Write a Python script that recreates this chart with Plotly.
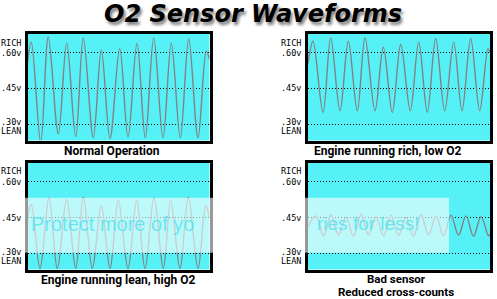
import plotly.graph_objects as go

# ---------------- data (time in arbitrary units across each trace, voltage in V) -------------
normal_t = [0, 3.8, 13.2, 20.8, 30.8, 39.2, 48.2, 55.8, 65.8, 73.8, 82.5, 92.2, 100.5,
            109.5, 117.8, 126.2, 135.5, 143.8, 152.8, 161.2, 170.5, 178.8, 182]
normal_v = [0.556, 0.641, 0.225, 0.662, 0.260, 0.637, 0.248, 0.659, 0.244, 0.609, 0.240,
            0.615, 0.245, 0.637, 0.243, 0.659, 0.243, 0.637, 0.243, 0.655, 0.243, 0.603, 0.570]

rich_t = [0, 5, 15, 22.7, 32, 40.3, 49.3, 57, 67, 75.3, 84.3, 92.7, 102.3, 110.7, 119.3,
          127.7, 136.7, 145.7, 154, 162.7, 171.7, 180, 182]
rich_v = [0.552, 0.645, 0.349, 0.659, 0.356, 0.645, 0.356, 0.659, 0.356, 0.620, 0.349,
          0.631, 0.356, 0.641, 0.349, 0.655, 0.356, 0.641, 0.356, 0.655, 0.356, 0.613, 0.600]

lean_t = [0, 3.8, 12.5, 21.5, 29.8, 39.2, 48.2, 55.8, 64.8, 73.8, 82.5, 90.8, 100.5,
          109.2, 117.5, 126.5, 135.8, 143.2, 152.5, 160.8, 170.5, 178.2, 182]
lean_v = [0.450, 0.503, 0.236, 0.531, 0.236, 0.524, 0.236, 0.534, 0.236, 0.497, 0.236,
          0.520, 0.236, 0.520, 0.236, 0.531, 0.236, 0.520, 0.236, 0.534, 0.236, 0.497, 0.450]

bad_t = [0, 8, 15.5, 23, 30.5, 38, 45.5, 53, 60.5, 68, 75.5, 83, 90.5, 98, 105.5, 113,
         120.5, 128, 135.5, 143, 150.5, 158, 165.5, 173, 180.5, 182]
bad_v = [0.410, 0.455, 0.372, 0.460, 0.375, 0.450, 0.370, 0.462, 0.376, 0.452, 0.372,
         0.458, 0.374, 0.450, 0.370, 0.460, 0.376, 0.455, 0.372, 0.458, 0.375, 0.455,
         0.370, 0.452, 0.372, 0.380]

grid_volts = [0.30, 0.45, 0.60]
scale_labels = ["RICH", ".60v", ".45v", ".30v", "LEAN"]
captions = ["Normal Operation", "Engine running rich, low O2",
            "Engine running lean, high O2", "Bad sensor", "Reduced cross-counts"]
title_text = "O2 Sensor Waveforms"
watermark_parts = ["Protect more of yo", "ries for less!"]

# ---------------- layout helpers ----------------
W, H = 497, 299


def px_x(x):
    return x / W


def px_y(y):
    return 1 - y / H


CYAN = "#55F1F6"
WAVE = "#858083"

series = [(normal_t, normal_v), (rich_t, rich_v), (lean_t, lean_v), (bad_t, bad_v)]
# inner plot boxes in pixels: (left, right, top, bottom)
boxes = [(27.5, 209.5, 33.5, 140.5), (308, 490, 33.5, 140.5),
         (27.5, 209.5, 162.5, 269.5), (308, 490, 162.5, 269.5)]

fig = go.Figure()
for i, ((t, v), (l, r, tp, bt)) in enumerate(zip(series, boxes)):
    n = "" if i == 0 else str(i + 1)
    fig.add_trace(go.Scatter(x=t, y=v, mode="lines",
                             line=dict(color=WAVE, width=1.4, shape="spline", smoothing=1.0),
                             xaxis="x" + n, yaxis="y" + n, showlegend=False, hoverinfo="skip"))
    fig.layout["xaxis" + n] = dict(domain=[px_x(l), px_x(r)], range=[0, 182],
                                   showgrid=False, zeroline=False, showticklabels=False,
                                   ticks="", showline=True, mirror=True, linewidth=3,
                                   linecolor="black", anchor="y" + n, fixedrange=True)
    fig.layout["yaxis" + n] = dict(domain=[px_y(bt), px_y(tp)], range=[0.232, 0.677],
                                   tickvals=grid_volts, showticklabels=False, ticks="",
                                   showgrid=True, gridcolor="black", gridwidth=1,
                                   griddash="1px,2px", zeroline=False, showline=True,
                                   mirror=True, linewidth=3, linecolor="black",
                                   anchor="x" + n, fixedrange=True)
    fig.add_shape(type="rect", xref="x" + n + " domain", yref="y" + n + " domain",
                  x0=0, x1=1, y0=0, y1=1, fillcolor=CYAN, line_width=0, layer="below")

annotations = []
# scale labels
label_rows_top = [42.7, 53.3, 88.3, 121.7, 131.0]
label_rows_bot = [171.3, 181.5, 217.5, 251.7, 261.3]
for xr, rows in [(23, label_rows_top), (303, label_rows_top),
                 (23, label_rows_bot), (303, label_rows_bot)]:
    for txt, yy in zip(scale_labels, rows):
        annotations.append(dict(text=txt, x=px_x(xr), y=px_y(yy), xref="paper", yref="paper",
                                xanchor="right", yanchor="middle", showarrow=False,
                                font=dict(family="DejaVu Sans Mono", size=8.5, color="black")))

# captions
cap_pos = [(112, 150.5), (388, 150.5), (117.5, 279.5), (396, 279), (396, 292.3)]
cap_size = [12, 12, 12, 11.5, 11.5]
for txt, (cx, cy), fs in zip(captions, cap_pos, cap_size):
    annotations.append(dict(text=txt, x=px_x(cx), y=px_y(cy), xref="paper", yref="paper",
                            xanchor="center", yanchor="middle", showarrow=False, borderpad=0,
                            font=dict(family="Roboto", size=fs, color="black", weight="bold")))

# title
annotations.append(dict(text=title_text, x=px_x(253), y=px_y(14), xref="paper", yref="paper",
                        xanchor="center", yanchor="middle", showarrow=False,
                        font=dict(family="DejaVu Sans", size=24, color="black",
                                  weight="bold", style="italic",
                                  shadow="2px 3px 3px rgba(0,0,0,0.5)")))

# photo-host watermark band (visible fragments)
annotations.append(dict(text=watermark_parts[0], x=px_x(29), y=px_y(224), xref="paper",
                        yref="paper", xanchor="left", yanchor="middle", showarrow=False,
                        font=dict(family="Liberation Sans", size=20,
                                  color="rgba(85,225,235,0.8)")))
annotations.append(dict(text=watermark_parts[1], x=px_x(421), y=px_y(224), xref="paper",
                        yref="paper", xanchor="right", yanchor="middle", showarrow=False,
                        font=dict(family="Liberation Sans", size=19,
                                  color="rgba(85,225,235,0.8)")))

fig.add_shape(type="rect", xref="paper", yref="paper", x0=0, x1=px_x(449),
              y0=px_y(252.7), y1=px_y(197.7), fillcolor="rgba(255,255,255,0.6)",
              line_width=0, layer="above")

fig.update_layout(width=W, height=H, margin=dict(l=0, r=0, t=0, b=0),
                  paper_bgcolor="white", plot_bgcolor="rgba(0,0,0,0)",
                  annotations=annotations, showlegend=False)

fig.write_html("out.html", config={"displayModeBar": False})
